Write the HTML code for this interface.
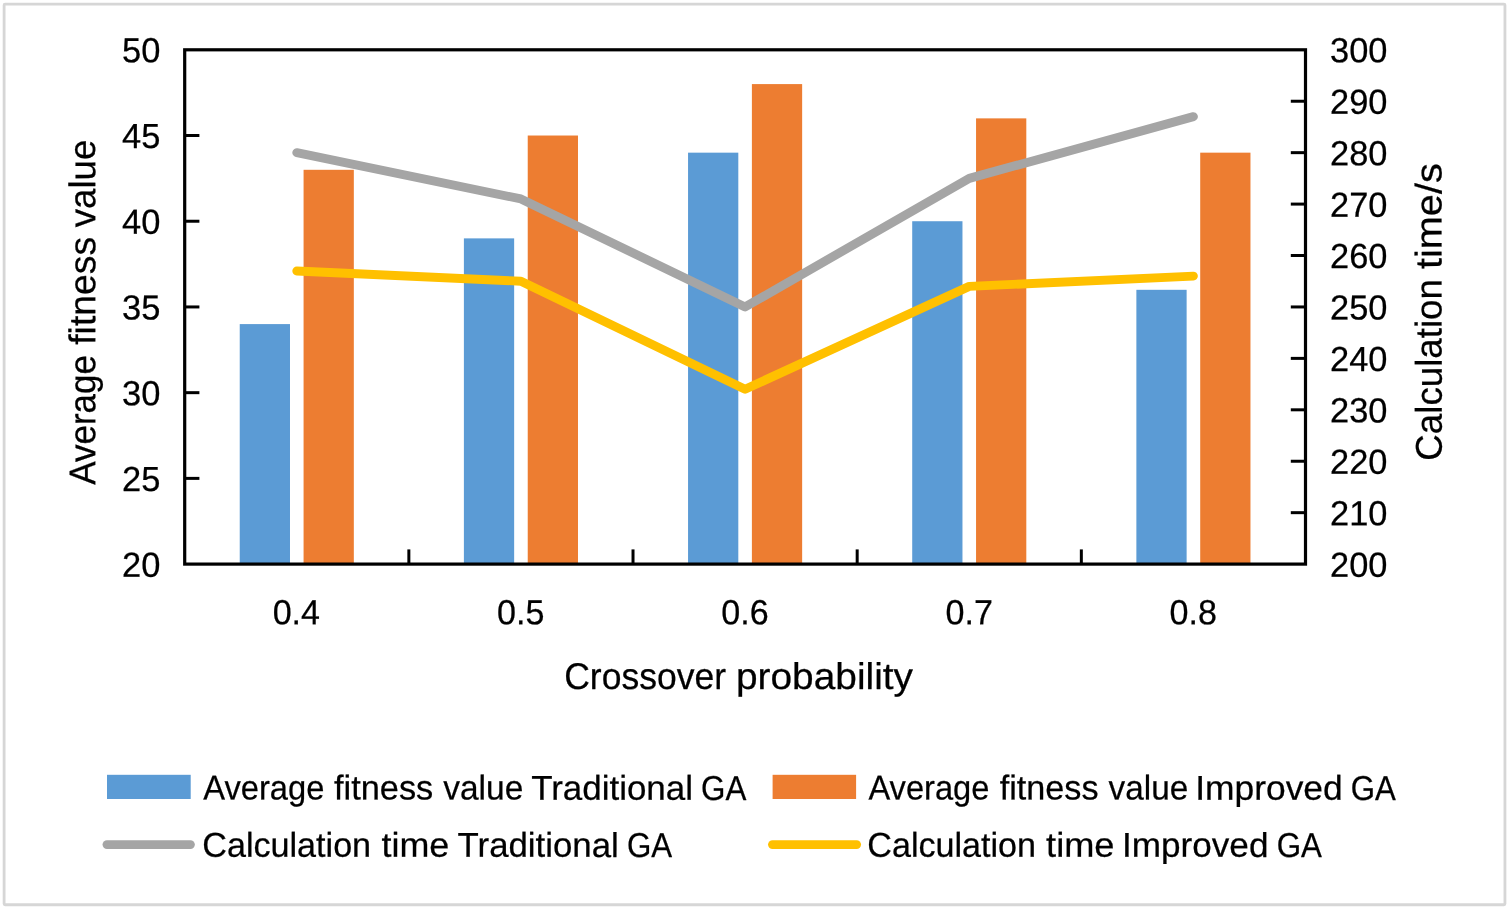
<!DOCTYPE html>
<html lang="en"><head><meta charset="utf-8"><title>Crossover probability chart</title>
<style>
html,body{margin:0;padding:0;background:#fff;}
body{width:1509px;height:909px;overflow:hidden;}
svg{display:block;}
text{font-family:"Liberation Sans", "DejaVu Sans", sans-serif;fill:#000;stroke:#000;stroke-width:0.25px;stroke-linejoin:round;}
</style></head><body>
<svg width="1509" height="909" viewBox="0 0 1509 909">
<rect x="0" y="0" width="1509" height="909" fill="#fff"/>
<rect x="4.1" y="4.1" width="1500.85" height="900.65" rx="1" fill="none" stroke="#d6d6d6" stroke-width="2.8"/>

<g>
<rect x="239.73" y="324.09" width="50.26" height="240.01" fill="#5b9bd5"/>
<rect x="303.57" y="169.80" width="50.26" height="394.30" fill="#ed7d31"/>
<rect x="463.89" y="238.38" width="50.26" height="325.72" fill="#5b9bd5"/>
<rect x="527.73" y="135.52" width="50.26" height="428.58" fill="#ed7d31"/>
<rect x="688.05" y="152.66" width="50.26" height="411.44" fill="#5b9bd5"/>
<rect x="751.89" y="84.09" width="50.26" height="480.01" fill="#ed7d31"/>
<rect x="912.21" y="221.23" width="50.26" height="342.87" fill="#5b9bd5"/>
<rect x="976.05" y="118.37" width="50.26" height="445.73" fill="#ed7d31"/>
<rect x="1136.37" y="289.81" width="50.26" height="274.29" fill="#5b9bd5"/>
<rect x="1200.21" y="152.66" width="50.26" height="411.44" fill="#ed7d31"/>
</g>
<polyline points="296.78,152.66 520.94,198.95 745.10,306.95 969.26,178.38 1193.42,116.66" fill="none" stroke="#a5a5a5" stroke-width="8.9" stroke-linecap="round" stroke-linejoin="round"/>
<polyline points="296.78,270.95 520.94,281.23 745.10,389.24 969.26,286.38 1193.42,276.09" fill="none" stroke="#ffc000" stroke-width="8.9" stroke-linecap="round" stroke-linejoin="round"/>
<rect x="184.7" y="49.8" width="1120.80" height="514.30" fill="none" stroke="#000" stroke-width="3.2"/>
<g stroke="#000" stroke-width="3.0">
<line x1="184.7" y1="478.38" x2="199.39999999999998" y2="478.38"/>
<line x1="184.7" y1="392.67" x2="199.39999999999998" y2="392.67"/>
<line x1="184.7" y1="306.95" x2="199.39999999999998" y2="306.95"/>
<line x1="184.7" y1="221.23" x2="199.39999999999998" y2="221.23"/>
<line x1="184.7" y1="135.52" x2="199.39999999999998" y2="135.52"/>
<line x1="1290.8" y1="512.67" x2="1305.5" y2="512.67"/>
<line x1="1290.8" y1="461.24" x2="1305.5" y2="461.24"/>
<line x1="1290.8" y1="409.81" x2="1305.5" y2="409.81"/>
<line x1="1290.8" y1="358.38" x2="1305.5" y2="358.38"/>
<line x1="1290.8" y1="306.95" x2="1305.5" y2="306.95"/>
<line x1="1290.8" y1="255.52" x2="1305.5" y2="255.52"/>
<line x1="1290.8" y1="204.09" x2="1305.5" y2="204.09"/>
<line x1="1290.8" y1="152.66" x2="1305.5" y2="152.66"/>
<line x1="1290.8" y1="101.23" x2="1305.5" y2="101.23"/>
<line x1="408.86" y1="564.1" x2="408.86" y2="549.4"/>
<line x1="633.02" y1="564.1" x2="633.02" y2="549.4"/>
<line x1="857.18" y1="564.1" x2="857.18" y2="549.4"/>
<line x1="1081.34" y1="564.1" x2="1081.34" y2="549.4"/>
</g>
<g>
<text transform="translate(122.12,576.65) rotate(0.03) scale(0.9901,1)" font-size="34.8">20</text>
<text transform="translate(122.12,490.93) rotate(0.03) scale(0.9901,1)" font-size="34.8">25</text>
<text transform="translate(122.12,405.22) rotate(0.03) scale(0.9901,1)" font-size="34.8">30</text>
<text transform="translate(122.12,319.50) rotate(0.03) scale(0.9901,1)" font-size="34.8">35</text>
<text transform="translate(122.12,233.78) rotate(0.03) scale(0.9901,1)" font-size="34.8">40</text>
<text transform="translate(122.12,148.07) rotate(0.03) scale(0.9901,1)" font-size="34.8">45</text>
<text transform="translate(122.12,62.35) rotate(0.03) scale(0.9901,1)" font-size="34.8">50</text>
</g>
<g>
<text transform="translate(1330.10,576.65) rotate(0.03) scale(0.9877,1)" font-size="34.8">200</text>
<text transform="translate(1330.10,525.22) rotate(0.03) scale(0.9877,1)" font-size="34.8">210</text>
<text transform="translate(1330.10,473.79) rotate(0.03) scale(0.9877,1)" font-size="34.8">220</text>
<text transform="translate(1330.10,422.36) rotate(0.03) scale(0.9877,1)" font-size="34.8">230</text>
<text transform="translate(1330.10,370.93) rotate(0.03) scale(0.9877,1)" font-size="34.8">240</text>
<text transform="translate(1330.10,319.50) rotate(0.03) scale(0.9877,1)" font-size="34.8">250</text>
<text transform="translate(1330.10,268.07) rotate(0.03) scale(0.9877,1)" font-size="34.8">260</text>
<text transform="translate(1330.10,216.64) rotate(0.03) scale(0.9877,1)" font-size="34.8">270</text>
<text transform="translate(1330.10,165.21) rotate(0.03) scale(0.9877,1)" font-size="34.8">280</text>
<text transform="translate(1330.10,113.78) rotate(0.03) scale(0.9877,1)" font-size="34.8">290</text>
<text transform="translate(1330.10,62.35) rotate(0.03) scale(0.9877,1)" font-size="34.8">300</text>
</g>
<g>
<text transform="translate(272.64,624.2) rotate(0.03) scale(0.9795,1)" font-size="34.8">0.4</text>
<text transform="translate(497.05,624.2) rotate(0.03) scale(0.9795,1)" font-size="34.8">0.5</text>
<text transform="translate(721.21,624.2) rotate(0.03) scale(0.9795,1)" font-size="34.8">0.6</text>
<text transform="translate(945.46,624.2) rotate(0.03) scale(0.9795,1)" font-size="34.8">0.7</text>
<text transform="translate(1169.53,624.2) rotate(0.03) scale(0.9795,1)" font-size="34.8">0.8</text>
</g>
<text transform="translate(739.50,689.00) rotate(0.03)" font-size="37.2"><tspan x="-175.27" textLength="161.74" lengthAdjust="spacingAndGlyphs">Crossover</tspan> <tspan x="-3.53" textLength="177.03" lengthAdjust="spacingAndGlyphs">probability</tspan></text>
<text transform="translate(95.20,313.00) rotate(-90.03)" font-size="37.2"><tspan x="-171.80" textLength="129.84" lengthAdjust="spacingAndGlyphs">Average</tspan> <tspan x="-31.77" textLength="107.88" lengthAdjust="spacingAndGlyphs">fitness</tspan> <tspan x="85.80" textLength="87.51" lengthAdjust="spacingAndGlyphs">value</tspan></text>
<text transform="translate(1441.60,311.70) rotate(-90.03)" font-size="37.2"><tspan x="-148.94" textLength="181.58" lengthAdjust="spacingAndGlyphs">Calculation</tspan> <tspan x="42.71" textLength="105.78" lengthAdjust="spacingAndGlyphs">time/s</tspan></text>
<rect x="107" y="774.8" width="83.7" height="24.2" fill="#5b9bd5"/>
<rect x="772.6" y="774.8" width="83.5" height="24.2" fill="#ed7d31"/>
<line x1="107" y1="844.6" x2="190.4" y2="844.6" stroke="#a5a5a5" stroke-width="8.9" stroke-linecap="round"/>
<line x1="772.5" y1="844.6" x2="856.6" y2="844.6" stroke="#ffc000" stroke-width="8.9" stroke-linecap="round"/>
<text transform="translate(474.85,799.60) rotate(0.03)" font-size="34.5"><tspan x="-271.65" textLength="121.15" lengthAdjust="spacingAndGlyphs">Average</tspan> <tspan x="-140.89" textLength="99.25" lengthAdjust="spacingAndGlyphs">fitness</tspan> <tspan x="-31.65" textLength="80.08" lengthAdjust="spacingAndGlyphs">value</tspan> <tspan x="56.35" textLength="161.77" lengthAdjust="spacingAndGlyphs">Traditional</tspan> <tspan x="226.28" textLength="45.27" lengthAdjust="spacingAndGlyphs">GA</tspan></text>
<text transform="translate(1132.20,799.60) rotate(0.03)" font-size="34.5"><tspan x="-263.80" textLength="121.04" lengthAdjust="spacingAndGlyphs">Average</tspan> <tspan x="-132.54" textLength="98.84" lengthAdjust="spacingAndGlyphs">fitness</tspan> <tspan x="-23.60" textLength="79.67" lengthAdjust="spacingAndGlyphs">value</tspan> <tspan x="63.02" textLength="147.45" lengthAdjust="spacingAndGlyphs">Improved</tspan> <tspan x="218.64" textLength="45.07" lengthAdjust="spacingAndGlyphs">GA</tspan></text>
<text transform="translate(438.10,856.80) rotate(0.03)" font-size="34.5"><tspan x="-235.81" textLength="168.79" lengthAdjust="spacingAndGlyphs">Calculation</tspan> <tspan x="-56.64" textLength="67.82" lengthAdjust="spacingAndGlyphs">time</tspan> <tspan x="19.50" textLength="161.16" lengthAdjust="spacingAndGlyphs">Traditional</tspan> <tspan x="188.84" textLength="45.17" lengthAdjust="spacingAndGlyphs">GA</tspan></text>
<text transform="translate(1095.45,856.80) rotate(0.03)" font-size="34.5"><tspan x="-228.15" textLength="168.69" lengthAdjust="spacingAndGlyphs">Calculation</tspan> <tspan x="-49.39" textLength="68.43" lengthAdjust="spacingAndGlyphs">time</tspan> <tspan x="26.59" textLength="146.41" lengthAdjust="spacingAndGlyphs">Improved</tspan> <tspan x="181.19" textLength="45.17" lengthAdjust="spacingAndGlyphs">GA</tspan></text>
</svg>
</body></html>
